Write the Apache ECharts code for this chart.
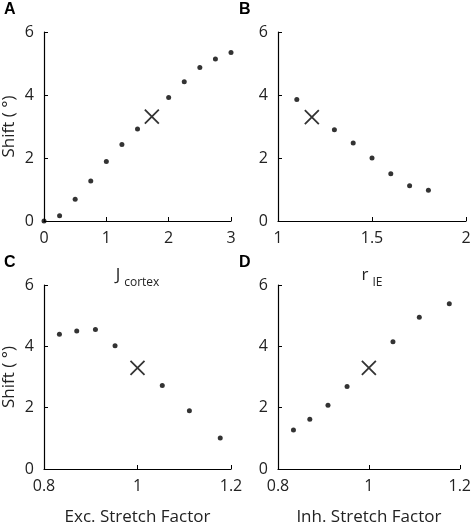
<!DOCTYPE html><html><head><meta charset="utf-8"><script src="https://cdn.jsdelivr.net/npm/echarts@6/dist/echarts.min.js"></script></head><body style="margin:0"><div id="c" style="width:474px;height:527px"></div><script>
const aX=[0,0.25,0.5,0.75,1.0,1.25,1.5,2.0,2.25,2.5,2.75,3.0];
const aY=[0,0.17,0.69,1.27,1.89,2.43,2.92,3.92,4.42,4.87,5.14,5.35];
const aMark=[1.73,3.31];
const bX=[1.1,1.3,1.4,1.5,1.6,1.7,1.8];
const bY=[3.86,2.9,2.48,2.0,1.5,1.12,0.98];
const bMark=[1.18,3.3];
const cX=[0.833,0.87,0.91,0.952,1.053,1.111,1.177];
const cY=[4.39,4.5,4.55,4.02,2.72,1.9,1.01];
const cMark=[1.0,3.3];
const dX=[0.834,0.87,0.91,0.952,1.053,1.111,1.177];
const dY=[1.27,1.62,2.08,2.69,4.15,4.95,5.39];
const dMark=[1.0,3.3];
const panels=[
 {l:43,t:32,min:0,max:3,int:1,d:[aX,aY],m:aMark,name:'{j|J}{s|cortex}',y:true,letter:'A'},
 {l:278,t:32,min:1,max:2,int:0.5,d:[bX,bY],m:bMark,name:'{j|r}{s|IE}',y:false,letter:'B'},
 {l:43,t:285,min:0.8,max:1.2,int:0.2,d:[cX,cY],m:cMark,name:'Exc. Stretch Factor',y:true,letter:'C'},
 {l:278,t:285,min:0.8,max:1.2,int:0.2,d:[dX,dY],m:dMark,name:'Inh. Stretch Factor',y:false,letter:'D'}];
const F='"Open Sans", sans-serif';
const axLine={lineStyle:{color:'#000',width:1.2}};
const opt={animation:false,grid:[],xAxis:[],yAxis:[],series:[],graphic:[]};
panels.forEach((p,i)=>{
 opt.grid.push({left:p.l,top:p.t,width:188,height:189});
 opt.xAxis.push({type:'value',gridIndex:i,min:p.min,max:p.max,interval:p.int,axisLine:axLine,
  axisTick:{inside:true,length:4,lineStyle:{color:'#000'}},splitLine:{show:false},
  axisLabel:{color:'#222',fontSize:16,fontFamily:F,margin:9},
  name:p.name,nameLocation:'middle',nameGap:40,
  nameTextStyle:{color:'#222',fontSize:17,fontFamily:F,
   rich:{j:{fontSize:17,fontFamily:F,color:'#222',padding:[0,4,0,0]},s:{fontSize:12,fontFamily:F,color:'#222',verticalAlign:'bottom',padding:[16,0,0,0]}}}});
 opt.yAxis.push({type:'value',gridIndex:i,min:0,max:6,interval:2,axisLine:axLine,
  axisTick:{inside:true,length:4,lineStyle:{color:'#000'}},splitLine:{show:false},
  axisLabel:{color:'#222',fontSize:16,fontFamily:F,margin:10},
  name:p.y?'Shift ( °)':'',nameLocation:'middle',nameGap:26,nameTextStyle:{color:'#222',fontSize:17,fontFamily:F}});
 opt.series.push({type:'scatter',xAxisIndex:i,yAxisIndex:i,symbolSize:5,itemStyle:{color:'#000'},
  data:p.d[0].map((x,k)=>[x,p.d[1][k]])});
 opt.series.push({type:'scatter',xAxisIndex:i,yAxisIndex:i,symbol:'path://M0,0L10,10M10,0L0,10',symbolSize:14,
  itemStyle:{color:'none',borderColor:'#000',borderWidth:1.8},data:[p.m]});
 opt.graphic.push({type:'text',left:p.l-39,top:p.t-30,style:{text:p.letter,font:'bold 16px Arial',fill:'#000'}});
});
echarts.init(document.getElementById('c')).setOption(opt);
</script></body></html>
